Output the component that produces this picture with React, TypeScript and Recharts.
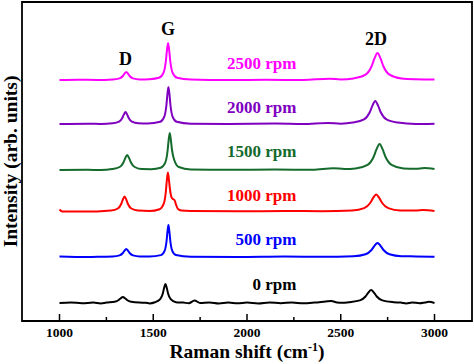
import React from 'react';
import { LineChart, Line, XAxis, YAxis, ReferenceArea, ReferenceDot, Label } from 'recharts';

// Raman spectra, one array per rotation speed: [Raman shift (cm-1), intensity (arb., stacked)]
const spec2500 = [
  [1000, 241], [1100, 241.3], [1200, 241], [1284, 241.5], [1320, 242.6], [1338, 245], [1347, 247.4], [1356, 249],
  [1365, 247.4], [1374, 245], [1392, 242.6], [1428, 241.5], [1480, 241.8], [1531, 243.2], [1555, 248.4],
  [1567, 259.5], [1573, 270.6], [1579, 278], [1585, 270.6], [1591, 259.5], [1603, 248.4], [1627, 243.2],
  [1700, 241.5], [1900, 241], [2100, 241.2], [2300, 241], [2440, 242.3], [2500, 241.5], [2568, 242.6],
  [2632, 246.4], [2664, 254.5], [2680, 262.6], [2696, 268], [2712, 262.6], [2728, 254.5], [2760, 246.4],
  [2824, 242.6], [2900, 241.8], [3000, 241.5],
];
const spec2000 = [
  [1000, 197], [1150, 197.3], [1220, 197], [1284, 197.7], [1318, 199.4], [1335, 203], [1343.5, 206.6], [1352, 209],
  [1360.5, 206.6], [1369, 203], [1386, 199.4], [1420, 197.7], [1470, 197.5], [1537, 199.2], [1559, 204.4],
  [1570, 215.5], [1575.5, 226.6], [1581, 234], [1586.5, 226.6], [1592, 215.5], [1603, 204.4], [1625, 199.2],
  [1700, 197.3], [1900, 197], [2150, 197.4], [2300, 197], [2430, 198], [2500, 197.3], [2564, 198.4],
  [2624, 201.6], [2654, 208.5], [2669, 215.4], [2684, 220], [2699, 215.4], [2714, 208.5], [2744, 201.6],
  [2804, 198.4], [2900, 197], [3000, 197.3],
];
const spec1500 = [
  [1000, 151], [1150, 151.2], [1220, 151], [1281, 151.9], [1321, 154], [1341, 158.5], [1351, 163], [1361, 166],
  [1371, 163], [1381, 158.5], [1401, 154], [1441, 151.9], [1490, 151.8], [1540, 153.2], [1564, 158.4],
  [1576, 169.5], [1582, 180.6], [1588, 188], [1594, 181], [1600, 171], [1612, 161], [1636, 154],
  [1700, 151.6], [1900, 151.2], [2150, 151.4], [2350, 151.2], [2460, 152.8], [2520, 152], [2579, 152.6],
  [2643, 156.2], [2675, 164], [2691, 171.8], [2707, 177], [2723, 171.8], [2739, 164], [2771, 156.2],
  [2835, 152.6], [2900, 152.2], [2945, 153], [3000, 152],
];
const spec1000 = [
  [1000, 111.5], [1015, 109.6], [1200, 109.6], [1275, 110.4], [1311, 112.5], [1329, 117], [1338, 121.5],
  [1347, 124.5], [1356, 121.5], [1365, 117], [1383, 112.5], [1419, 110.4], [1480, 110], [1534, 111.8],
  [1556, 117.3], [1567, 129], [1572.5, 140.7], [1578, 148.5], [1583.5, 141.5], [1589, 132], [1597, 124],
  [1605, 122], [1613, 121], [1622, 116], [1632, 112], [1650, 110.5], [1700, 110], [1950, 109.7], [2200, 110],
  [2400, 109.8], [2561, 110.5], [2625, 112.9], [2657, 118], [2673, 123.1], [2689, 126.5], [2705, 123.1],
  [2721, 118], [2753, 112.9], [2817, 110.5], [2900, 110.5], [2940, 111], [3000, 110],
];
const spec500 = [
  [1000, 64.5], [1150, 64], [1230, 64.3], [1284, 64.5], [1320, 65.6], [1338, 68], [1347, 70.4], [1356, 72],
  [1365, 70.4], [1374, 68], [1392, 65.6], [1428, 64.5], [1480, 64.5], [1541, 65.9], [1561, 70.4], [1571, 80],
  [1576, 89.6], [1581, 96], [1586, 89.6], [1591, 80], [1601, 70.4], [1621, 65.9], [1700, 64.3], [1950, 64],
  [2200, 64.5], [2400, 64.2], [2568, 64.8], [2632, 66.8], [2664, 71], [2680, 75.2], [2696, 78], [2712, 75.2],
  [2728, 71], [2760, 66.8], [2824, 64.8], [2900, 64.6], [3000, 64.3],
];
const spec0 = [
  [1000, 18], [1060, 18.6], [1120, 17.7], [1180, 18.5], [1220, 17.6], [1250, 18.4], [1294, 19.2], [1316, 21],
  [1327, 22.8], [1338, 24], [1349, 22.8], [1360, 21], [1382, 19.2], [1426, 18.4], [1460, 18.3], [1480, 17.6],
  [1509, 18.8], [1537, 21.8], [1551, 27.5], [1558, 33.2], [1565, 37], [1572, 33.2], [1579, 27.5], [1593, 21.8],
  [1621, 18.8], [1660, 18.4], [1690, 17.8], [1720, 20.5], [1750, 18], [1800, 18.6], [1850, 17.6], [1900, 18.5],
  [1950, 17.7], [2000, 18.4], [2060, 17.6], [2120, 18.6], [2180, 17.8], [2240, 18.5], [2300, 17.7], [2360, 18.4],
  [2420, 19.5], [2450, 20], [2480, 18.5], [2510, 18.2], [2542, 18.8], [2602, 20.6], [2632, 24.5], [2647, 28.4],
  [2662, 31], [2677, 28.4], [2692, 24.5], [2722, 20.6], [2782, 18.8], [2820, 18.4], [2850, 17.6], [2880, 18.5],
  [2920, 17.8], [2950, 18.6], [2970, 19.2], [3000, 18],
];

const speedLabels = ['2500 rpm', '2000 rpm', '1500 rpm', '1000 rpm', '500 rpm', '0 rpm'];
const speedColors = ['#ff00ff', '#8000c0', '#146b2c', '#ff0000', '#0000ff', '#000000'];
const speedSpectra = [spec2500, spec2000, spec1500, spec1000, spec500, spec0];
// label anchor (right end, text baseline) for each speed
const speedLabelX = 2264;
const speedLabelY = [252, 208, 164, 120, 76, 31];

const peakNames = ['D', 'G', '2D'];
const peakLabelX = [1352, 1579, 2688];
const peakLabelY = [256, 286, 276];

const xTicks = [1000, 1250, 1500, 1750, 2000, 2250, 2500, 2750, 3000];
const majorTicks = [1000, 1500, 2000, 2500, 3000];

const FONT = '"Liberation Serif", "Times New Roman", serif';

const toPoints = (arr: number[][]) => arr.map(([x, y]) => ({ x, y }));

const XTick = (props: any) => {
  const { x, y, payload } = props;
  const major = majorTicks.includes(payload.value);
  return (
    <g>
      <line x1={x} x2={x} y1={y} y2={y - (major ? 7 : 4)} stroke="#000" strokeWidth={1.5} />
      {major && (
        <text x={x} y={y + 16} textAnchor="middle" fontFamily={FONT} fontWeight="bold" fontSize={13.5} fill="#000">
          {payload.value}
        </text>
      )}
    </g>
  );
};

const App: React.FC = () => {
  return (
    <div style={{ position: 'absolute', left: 0, top: 0, background: '#fff' }}>
      <LineChart width={474} height={364} margin={{ top: 2, right: 2, left: 22, bottom: 0 }}>
        <XAxis
          dataKey="x"
          type="number"
          domain={[800, 3200]}
          ticks={xTicks}
          tick={<XTick />}
          tickLine={false}
          tickSize={0}
          tickMargin={0}
          height={43}
          axisLine={{ stroke: '#000', strokeWidth: 1.8 }}
          allowDuplicatedCategory={false}
        >
          <Label
            content={(p: any) => {
              const vb = p.viewBox;
              return (
                <text
                  x={vb.x + vb.width / 2}
                  y={358}
                  textAnchor="middle"
                  fontFamily={FONT}
                  fontWeight="bold"
                  fontSize={19.5}
                  fill="#000"
                >
                  Raman shift (cm
                  <tspan dy={-7} fontSize={12}>-1</tspan>
                  <tspan dy={7}>)</tspan>
                </text>
              );
            }}
          />
        </XAxis>
        <YAxis
          type="number"
          domain={[0, 319]}
          width={0}
          tick={false}
          tickLine={false}
          axisLine={{ stroke: '#000', strokeWidth: 1.8 }}
        />
        <ReferenceArea x1={800} x2={3200} y1={0} y2={319} fill="none" stroke="#000" strokeWidth={1.8} ifOverflow="visible" />
        {speedSpectra.map((s, i) => (
          <Line
            key={speedLabels[i]}
            data={toPoints(s)}
            dataKey="y"
            type="monotone"
            stroke={speedColors[i]}
            strokeWidth={2}
            dot={false}
            isAnimationActive={false}
          />
        ))}
        {speedLabels.map((t, i) => (
          <ReferenceDot
            key={t}
            x={speedLabelX}
            y={speedLabelY[i]}
            r={0}
            ifOverflow="visible"
            shape={(p: any) => (
              <text x={p.cx} y={p.cy} textAnchor="end" fontFamily={FONT} fontWeight="bold" fontSize={17} fill={speedColors[i]}>
                {t}
              </text>
            )}
          />
        ))}
        {peakNames.map((t, i) => (
          <ReferenceDot
            key={t}
            x={peakLabelX[i]}
            y={peakLabelY[i]}
            r={0}
            ifOverflow="visible"
            shape={(p: any) => (
              <text x={p.cx} y={p.cy} textAnchor="middle" fontFamily={FONT} fontWeight="bold" fontSize={18} fill="#000">
                {t}
              </text>
            )}
          />
        ))}
        {/* y axis title, placed at the vertical middle of the plot */}
        <ReferenceDot
          x={800}
          y={159.5}
          r={0}
          ifOverflow="visible"
          shape={(p: any) => {
            const cx = 10;
            const cy = p.cy;
            return (
              <text
                x={cx}
                y={cy}
                dy="0.35em"
                transform={`rotate(-90, ${cx}, ${cy})`}
                textAnchor="middle"
                fontFamily={FONT}
                fontWeight="bold"
                fontSize={19.5}
                fill="#000"
              >
                Intensity (arb. units)
              </text>
            );
          }}
        />
      </LineChart>
    </div>
  );
};

export default App;
